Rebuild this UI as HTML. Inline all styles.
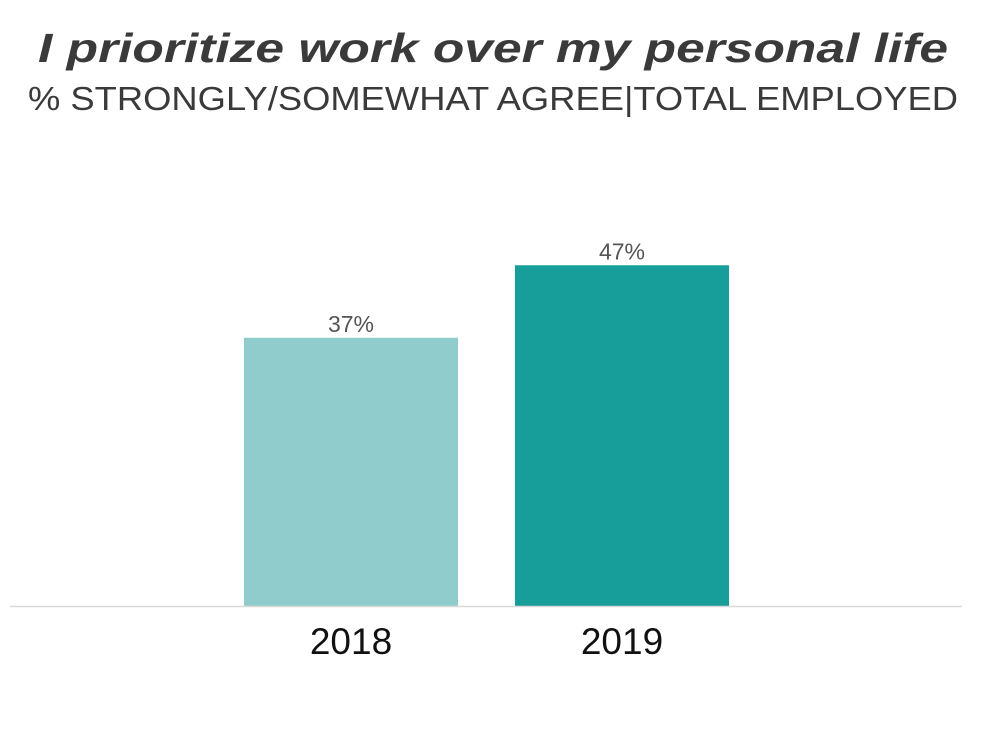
<!DOCTYPE html>
<html><head><meta charset="utf-8"><style>
body{margin:0;background:#fff;width:986px;height:734px;overflow:hidden;font-family:"Liberation Sans","DejaVu Sans",sans-serif}
</style></head><body>
<svg width="986" height="734">
<text x="493" y="62" text-anchor="middle" font-size="41" font-weight="bold" font-style="italic" fill="#3a3a3a" textLength="910" lengthAdjust="spacingAndGlyphs">I prioritize work over my personal life</text>
<text x="493" y="110" text-anchor="middle" font-size="33" fill="#3a3a3a" textLength="930" lengthAdjust="spacingAndGlyphs">% STRONGLY/SOMEWHAT AGREE|TOTAL EMPLOYED</text>
<g id="bars"></g>
<line x1="10" y1="606.5" x2="962" y2="606.5" stroke="#d9d9d9" stroke-width="1.5"/>
</svg>
<script>
const categories = ["2018", "2019"];
const values = [37, 47];
const colors = ["#8fcccb", "#189e9a"];
const g = document.getElementById('bars');
const ns = "http://www.w3.org/2000/svg";
const y0 = 606, pxPer = 7.25;
const yScale = v => y0 - v * pxPer;
const xScale = i => 244 + i * 271;
const bw = 214;
categories.forEach((c, i) => {
  const r = document.createElementNS(ns, 'rect');
  r.setAttribute('x', xScale(i)); r.setAttribute('y', yScale(values[i]));
  r.setAttribute('width', bw); r.setAttribute('height', y0 - yScale(values[i]));
  r.setAttribute('fill', colors[i]);
  
  
  g.appendChild(r);
  const t = document.createElementNS(ns, 'text');
  t.setAttribute('x', xScale(i) + bw / 2); t.setAttribute('y', yScale(values[i]) - 6);
  t.setAttribute('text-anchor', 'middle'); t.setAttribute('font-size', '23'); t.setAttribute('fill', '#555');
  t.textContent = values[i] + '%';
  
  
  g.appendChild(t);
  const l = document.createElementNS(ns, 'text');
  l.setAttribute('x', xScale(i) + bw / 2); l.setAttribute('y', 654);
  l.setAttribute('text-anchor', 'middle'); l.setAttribute('font-size', '37'); l.setAttribute('fill', '#111');
  l.textContent = c;
  
  
  g.appendChild(l);
});
</script>
</body></html>
